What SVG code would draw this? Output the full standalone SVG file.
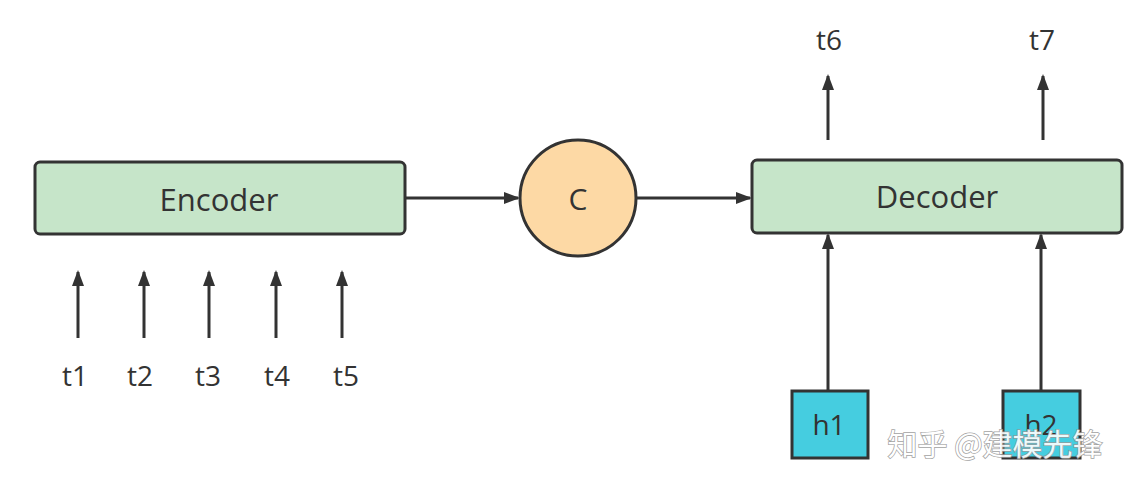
<svg xmlns="http://www.w3.org/2000/svg" width="1145" height="491" viewBox="0 0 1145 491">
<style>
text{font-family:"Open Sans","Noto Sans",sans-serif;fill:#333;text-anchor:middle}
.box{fill:#c6e5c9;stroke:#333;stroke-width:3}
.h{fill:#45cde0;stroke:#333;stroke-width:3}
.c line{stroke:#333;stroke-width:3;marker-end:url(#a)}
</style>
<defs><marker id="a" viewBox="0 0 16 12" refX="14" refY="6" markerWidth="16" markerHeight="12" markerUnits="userSpaceOnUse" orient="auto"><path d="M0,0 L16,6 L0,12 z" fill="#333"/></marker></defs>
<rect width="1145" height="491" fill="#fff"/>
<g id="encoder"><rect class="box" x="35" y="162" width="370" height="72" rx="5"/><text x="219" y="211" font-size="31">Encoder</text></g>
<g id="c"><circle cx="578" cy="198" r="58" fill="#fdd9a5" stroke="#333" stroke-width="3"/><text x="578" y="210" font-size="30">C</text></g>
<g id="decoder"><rect class="box" x="752" y="160" width="370" height="73" rx="5"/><text x="937" y="208" font-size="31">Decoder</text></g>
<g id="h1"><rect class="h" x="792" y="391" width="76" height="67"/><text x="829" y="435" font-size="28">h1</text></g>
<g id="h2"><rect class="h" x="1003" y="391" width="77" height="67"/><text x="1041" y="435" font-size="28">h2</text></g>
<g id="labels" font-size="28">
<text x="75" y="386">t1</text><text x="140" y="386">t2</text><text x="208" y="386">t3</text><text x="277" y="386">t4</text><text x="346" y="386">t5</text>
<text x="829" y="50">t6</text><text x="1042" y="50">t7</text>
</g>
<g class="c" id="connectors">
<line x1="78" y1="338" x2="78" y2="272"/><line x1="144" y1="338" x2="144" y2="272"/><line x1="209" y1="338" x2="209" y2="272"/><line x1="276" y1="338" x2="276" y2="272"/><line x1="342" y1="338" x2="342" y2="272"/>
<line x1="405" y1="198" x2="518" y2="198"/><line x1="636" y1="198" x2="750" y2="198"/>
<line x1="828" y1="140" x2="828" y2="76"/><line x1="1043" y1="140" x2="1043" y2="76"/>
<line x1="828" y1="391" x2="828" y2="235"/><line x1="1041" y1="391" x2="1041" y2="235"/>
</g>
<text x="995" y="455" font-size="30" style="font-family:'Noto Sans CJK SC',sans-serif;fill:#fff;stroke:#999;stroke-width:1.5;paint-order:stroke" opacity="0.9">知乎 @建模先锋</text>
</svg>
